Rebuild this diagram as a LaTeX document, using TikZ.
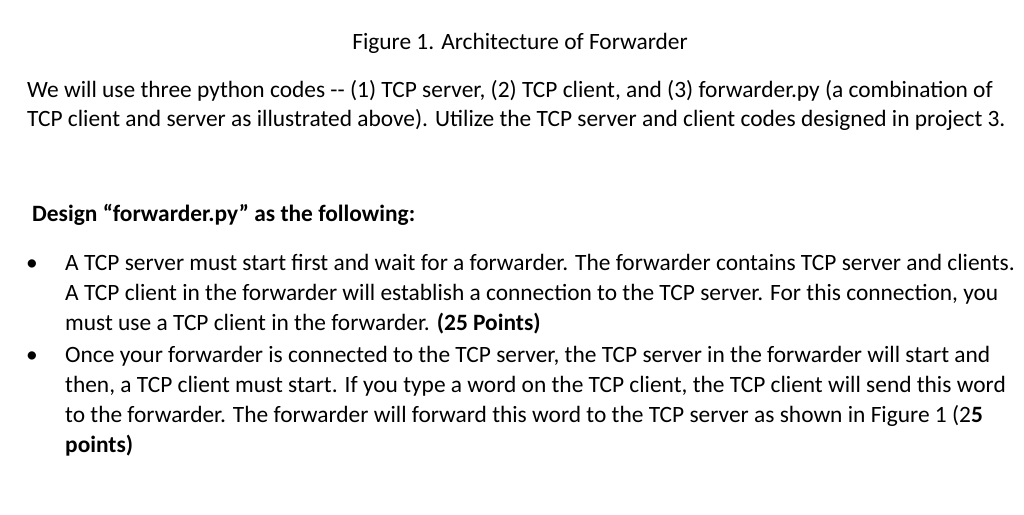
\documentclass[tikz,border=0pt]{standalone}
\usepackage{fontspec}
\setmainfont{Carlito}
\begin{document}
\begin{tikzpicture}[x=1pt,y=-1pt,
  txt/.style={anchor=base west,inner sep=0pt,font=\fontsize{23.4}{28}\selectfont},
  bul/.style={anchor=base,inner sep=0pt,font=\fontsize{23.4}{28}\selectfont}]
\useasboundingbox (0,0) rectangle (1024,514);
\node[txt,anchor=base] (t) at (520,49) {Figure 1. Architecture of Forwarder};
\node[txt] (p1) at (27,97) {We will use three python codes -{}- (1) TCP server, (2) TCP client, and (3) forwarder.py (a combination of};
\node[txt] (p2) at (27,126) {TCP client and server as illustrated above). Utilize the TCP server and client codes designed in project 3.};
\node[txt] (d) at (32,221) {\bfseries Design “forwarder.py” as the following:};
\node[bul] (b1) at (32,270) {•};
\node[txt] (a1) at (65,270) {A TCP server must start first and wait for a forwarder. The forwarder contains TCP server and clients.};
\node[txt] (a2) at (65,300) {A TCP client in the forwarder will establish a connection to the TCP server. For this connection, you};
\node[txt] (a3) at (65,330) {must use a TCP client in the forwarder. \textbf{(25 Points)}};
\node[bul] (b2) at (32,362) {•};
\node[txt] (c1) at (65,362) {Once your forwarder is connected to the TCP server, the TCP server in the forwarder will start and};
\node[txt] (c2) at (65,392) {then, a TCP client must start. If you type a word on the TCP client, the TCP client will send this word};
\node[txt] (c3) at (65,422) {to the forwarder. The forwarder will forward this word to the TCP server as shown in Figure 1 (2\textbf{5}};
\node[txt] (c4) at (65,452) {\bfseries points)};
\end{tikzpicture}
\end{document}
